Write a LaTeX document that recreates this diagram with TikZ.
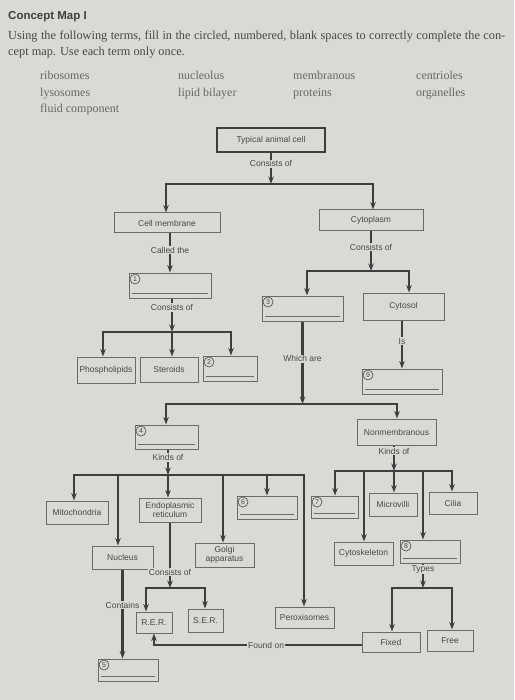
\documentclass[tikz,border=0pt]{standalone}
\usepackage{fontspec}
\setmainfont{Liberation Serif}
\setsansfont{Liberation Sans}
\usetikzlibrary{arrows.meta,positioning,calc}

\definecolor{paper}{HTML}{DAD9D6}
\definecolor{ink}{HTML}{3E3E3E}
\definecolor{boxline}{HTML}{6A6A6A}
\definecolor{txt}{HTML}{474747}
\definecolor{faint}{HTML}{666666}

\begin{document}
\begin{tikzpicture}[x=1pt, y=-1pt,
  >={Stealth[length=7.5pt,width=5.5pt]},
  box/.style 2 args={draw=boxline, line width=1pt, minimum width=#1pt, minimum height=#2pt,
    inner sep=1pt, align=center, text=txt, font=\sffamily\fontsize{8.5}{9.5}\selectfont},
  blank/.style n args={3}{box={#1}{#2}, path picture={
      \draw[boxline, line width=0.9pt]
        ([shift={(3pt,5pt)}]path picture bounding box.south west) --
        ([shift={(-3pt,5pt)}]path picture bounding box.south east);
      \node[circle, draw=txt, line width=0.6pt, minimum size=10pt, inner sep=0pt,
        text=txt, font=\sffamily\fontsize{7}{7}\selectfont]
        at ([shift={(6pt,-6pt)}]path picture bounding box.north west) {#3};
    }},
  link/.style={draw=ink, line width=2.1pt},
  lbl/.style={fill=paper, inner sep=1pt, text=txt, font=\sffamily\fontsize{8.5}{9}\selectfont},
  term/.style={anchor=base west, inner sep=0pt, text=faint, font=\fontsize{12}{14}\selectfont}]

  \fill[paper] (0,0) rectangle (514,700);

  % Heading and word list
  \node[anchor=base west, inner sep=0pt, text=ink, font=\sffamily\bfseries\fontsize{11.5}{12}\selectfont]
    (title) at (8,20) {Concept Map I};
  \node[anchor=base west, inner sep=0pt, text=txt, font=\fontsize{12.3}{14}\selectfont] (intro1) at (8,40)
    {\makebox[497pt][s]{Using the following terms, fill in the circled, numbered, blank spaces to correctly complete the con-}};
  \node[anchor=base west, inner sep=0pt, text=txt, font=\fontsize{12.3}{14}\selectfont] (intro2) at (8,56)
    {cept map. Use each term only once.};
  \node[term] (ribo) at (40,80) {ribosomes};
  \node[term] (nucleolus) at (178,80) {nucleolus};
  \node[term] (membranous) at (293,80) {membranous};
  \node[term] (centrioles) at (416,80) {centrioles};
  \node[term] (lyso) at (40,96.5) {lysosomes};
  \node[term] (lipid) at (178,96.5) {lipid bilayer};
  \node[term] (proteins) at (293,96.5) {proteins};
  \node[term] (organelles) at (416,96.5) {organelles};
  \node[term] (fluid) at (40,113) {fluid component};

  % Boxes for the cell and its two parts
  \node[box={108}{24}, draw=ink, line width=2.2pt] (cell) at (271,140) {Typical animal cell};
  \node[box={106}{20}] (membrane) at (167,223) {Cell membrane};
  \node[box={104}{21}] (cytoplasm) at (371,220.5) {Cytoplasm};

  % Boxes for the membrane branch
  \node[blank={82}{25}{1}] (s1) at (170,285.5) {};
  \node[box={58}{26}] (phospho) at (106,370) {Phospholipids};
  \node[box={58}{25}] (steroids) at (169,369.5) {Steroids};
  \node[blank={54}{25}{2}] (s2) at (230,368.5) {};

  % Boxes for the cytoplasm branch
  \node[blank={81}{25}{3}] (s3) at (302.5,308.5) {};
  \node[box={81}{27}] (cytosol) at (403.5,306.5) {Cytosol};
  \node[blank={80}{25}{9}] (s9) at (402,381.5) {};
  \node[blank={63}{24}{4}] (s4) at (166.5,437) {};
  \node[box={79}{26}] (nonmem) at (396.5,432) {Nonmembranous};

  % Boxes for the membranous organelles
  \node[box={62}{23}] (mito) at (77,512.5) {Mitochondria};
  \node[box={62}{24}] (er) at (170,510) {Endoplasmic\\reticulum};
  \node[blank={60}{23}{6}] (s6) at (267,507.5) {};
  \node[box={61}{23}] (nucleus) at (122.5,557.5) {Nucleus};
  \node[box={59}{24}] (golgi) at (224.5,555) {Golgi\\apparatus};
  \node[box={59}{21}] (perox) at (304.5,617.5) {Peroxisomes};
  \node[box={36}{21}] (rer) at (154,622.5) {R.E.R.};
  \node[box={35}{23}] (ser) at (205.5,620.5) {S.E.R.};
  \node[blank={60}{22}{5}] (s5) at (128,670) {};

  % Boxes for the nonmembranous organelles
  \node[blank={47}{22}{7}] (s7) at (334.5,507) {};
  \node[box={48}{23}] (microvilli) at (393,504.5) {Microvilli};
  \node[box={48}{22}] (cilia) at (453,503) {Cilia};
  \node[box={59}{23}] (cytosk) at (363.5,553.5) {Cytoskeleton};
  \node[blank={60}{23}{8}] (s8) at (430,551.5) {};
  \node[box={58}{20}] (fixed) at (391,642) {Fixed};
  \node[box={46}{21}] (free) at (450,640.5) {Free};

  % Bar points
  \coordinate (a1) at (166,184);
  \coordinate (a2) at (373,184);
  \coordinate (m1) at (103,332);
  \coordinate (m2) at (172,332);
  \coordinate (m3) at (231,332);
  \coordinate (c1) at (307,271);
  \coordinate (c2) at (409,271);
  \coordinate (w1) at (166,404);
  \coordinate (w2) at (397,404);
  \coordinate (k1) at (74,475);
  \coordinate (k2) at (118,475);
  \coordinate (k3) at (168,475);
  \coordinate (k4) at (223,475);
  \coordinate (k5) at (267,475);
  \coordinate (k6) at (304,475);
  \coordinate (p1) at (335,471);
  \coordinate (p2) at (364,471);
  \coordinate (p3) at (394,471);
  \coordinate (p4) at (423,471);
  \coordinate (p5) at (452,471);
  \coordinate (e1) at (146,588);
  \coordinate (e2) at (205,588);
  \coordinate (t1) at (392,588);
  \coordinate (tj) at (423,588);
  \coordinate (t2) at (452,588);

  % Arrows for the top levels
  \draw[link,->] (cell) -- node[lbl,pos=.35] {Consists of} (cell |- a1);
  \draw[link,<->] (a1 |- membrane.north) -- (a1) -- (a2) -- (a2 |- cytoplasm.north);
  \draw[link,->] (s1 |- membrane.south) -- node[lbl,pos=.43] {Called the} (s1);
  \draw[link,->] (s1.south -| m2) -- node[lbl,pos=.27] {Consists of} (m2);
  \draw[link,<->] (m1 |- phospho.north) -- (m1) -- (m3) -- (m3 |- s2.north);
  \draw[link,->] (m2) -- (m2 |- steroids.north);
  \draw[link,->] (cytoplasm) -- node[lbl,pos=.4] {Consists of} (cytoplasm |- c1);
  \draw[link,<->] (c1 |- s3.north) -- (c1) -- (c2) -- (c2 |- cytosol.north);
  \draw[link,->] (s9 |- cytosol.south) -- node[lbl,pos=.43] {Is} (s9);
  \draw[link,->] (s3) -- node[lbl,pos=.45] {Which are} (s3 |- w1);
  \draw[link,<->] (w1 |- s4.north) -- (w1) -- (w2) -- (w2 |- nonmem.north);

  % Arrows for the membranous organelles
  \draw[link,->] (s4.south -| k3) -- node[lbl,pos=.31] {Kinds of} (k3);
  \draw[link,<->] (k1 |- mito.north) -- (k1) -- (k6) -- (k6 |- perox.north);
  \draw[link,->] (k2) -- (k2 |- nucleus.north);
  \draw[link,->] (k3) -- (k3 |- er.north);
  \draw[link,->] (k4) -- (k4 |- golgi.north);
  \draw[link,->] (k5) -- (k5 |- s6.north);
  \draw[link,->] (er) -- node[lbl,pos=.76] {Consists of} (er |- e1);
  \draw[link,<->] (e1 |- rer.north) -- (e1) -- (e2) -- (e2 |- ser.north);
  \draw[link,->] (nucleus) -- node[lbl,pos=.4] {Contains} (nucleus |- s5.north);

  % Arrows for the nonmembranous organelles
  \draw[link,->] (nonmem.south -| p3) -- node[lbl,pos=.23] {Kinds of} (p3);
  \draw[link,<->] (p1 |- s7.north) -- (p1) -- (p5) -- (p5 |- cilia.north);
  \draw[link,->] (p2) -- (p2 |- cytosk.north);
  \draw[link,->] (p3) -- (p3 |- microvilli.north);
  \draw[link,->] (p4) -- (p4 |- s8.north);
  \draw[link,->] (s8.south -| tj) -- node[lbl,pos=.24] {Types} (tj);
  \draw[link,<->] (t1 |- fixed.north) -- (t1) -- (t2) -- (t2 |- free.north);
  \draw[link,->] ([yshift=-3pt]fixed.west) -| node[lbl,pos=.23] {Found on} (rer);

\end{tikzpicture}
\end{document}
